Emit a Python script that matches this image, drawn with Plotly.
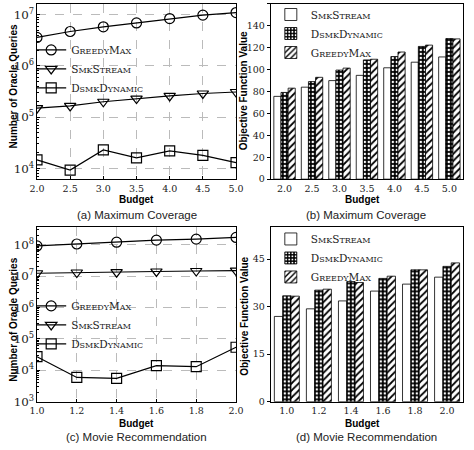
import plotly.graph_objects as go

W, H = 474, 450

# ---------------- data ----------------
budget_mc = [2.0, 2.5, 3.0, 3.5, 4.0, 4.5, 5.0]
budget_mr = [1.0, 1.2, 1.4, 1.6, 1.8, 2.0]

# (a) oracle queries, maximum coverage
q_mc_greedy = [3.6e6, 4.7e6, 5.8e6, 6.9e6, 8.4e6, 9.8e6, 1.1e7]
q_mc_smk = [1.5e5, 1.66e5, 2.0e5, 2.3e5, 2.6e5, 2.9e5, 3.1e5]
q_mc_dsmk = [1.47e4, 9.3e3, 2.3e4, 1.6e4, 2.2e4, 1.8e4, 1.3e4]

# (b) objective value, maximum coverage
f_mc_smk = [75.6, 84, 90, 94.8, 101.7, 106.8, 111.6]
f_mc_dsmk = [79.2, 89.1, 99.6, 108.9, 111.9, 121.2, 128.4]
f_mc_greedy = [83.1, 93, 101.4, 109.5, 116.1, 122.4, 128.1]

# (c) oracle queries, movie recommendation
q_mr_greedy = [9.1e7, 1.05e8, 1.2e8, 1.4e8, 1.5e8, 1.7e8]
q_mr_smk = [1.23e7, 1.3e7, 1.33e7, 1.4e7, 1.45e7, 1.5e7]
q_mr_dsmk = [2.7e4, 5.9e3, 5.5e3, 1.4e4, 1.3e4, 5.4e4]

# (d) objective value, movie recommendation
f_mr_smk = [26.9, 29.3, 31.8, 34.9, 37.1, 39.3]
f_mr_dsmk = [33.4, 35.2, 37.9, 38.9, 41.6, 42.7]
f_mr_greedy = [33.3, 35.5, 37.6, 39.6, 41.6, 43.8]

names = {"greedy": ["G", "REEDY", "M", "AX"],
         "smk": ["S", "MK", "S", "TREAM"],
         "dsmk": ["D", "SMK", "D", "YNAMIC"]}
captions = ["(a) Maximum Coverage", "(b) Maximum Coverage",
            "(c) Movie Recommendation", "(d) Movie Recommendation"]
x_title = "Budget"
y_title_q = "Number of Oracle Queries"
y_title_f = "Objective Function Value"


def sc(parts):
    out = ""
    for i, p in enumerate(parts):
        if i % 2 == 0:
            out += p
        else:
            out += "<span style='font-size:8px'>" + p + "</span>"
    return out


SERIF = "DejaVu Serif"
SANS = "Liberation Sans"

fig = go.Figure()


def px_x(a, b):
    return [a / W, b / W]


def px_y(top, bottom):
    return [1 - bottom / H, 1 - top / H]


# domains
LX = px_x(30, 236)
RX = px_x(272, 471)
TY = px_y(4, 182)
BY = px_y(231, 408)

line_style = dict(color="black", width=1.2)

# ---- (a) ----
for key, ys, sym in [("greedy", q_mc_greedy, "circle-open"),
                     ("smk", q_mc_smk, "triangle-down-open"),
                     ("dsmk", q_mc_dsmk, "square-open")]:
    fig.add_trace(go.Scatter(x=budget_mc, y=ys, mode="lines+markers", name=sc(names[key]),
                             line=line_style, marker=dict(symbol=sym, size=10, color="black",
                                                          line=dict(width=1.2)),
                             xaxis="x", yaxis="y", legend="legend"))
# ---- (c) ----
for key, ys, sym in [("greedy", q_mr_greedy, "circle-open"),
                     ("smk", q_mr_smk, "triangle-down-open"),
                     ("dsmk", q_mr_dsmk, "square-open")]:
    fig.add_trace(go.Scatter(x=budget_mr, y=ys, mode="lines+markers", name=sc(names[key]),
                             line=line_style, marker=dict(symbol=sym, size=10, color="black",
                                                          line=dict(width=1.2)),
                             xaxis="x3", yaxis="y3", legend="legend3"))

pat = {
    "smk": dict(color="white", pattern=dict(shape="")),
    "dsmk": dict(color="black", pattern=dict(shape=".", fgcolor="white", bgcolor="black",
                                             size=4, solidity=0.3, fillmode="replace")),
    "greedy": dict(color="white", pattern=dict(shape="/", fgcolor="black", bgcolor="white",
                                               size=5, solidity=0.35, fillmode="replace")),
}

# ---- (b) ----
cat_mc = [f"{b:.1f}" for b in budget_mc]
for key, ys in [("smk", f_mc_smk), ("dsmk", f_mc_dsmk), ("greedy", f_mc_greedy)]:
    fig.add_trace(go.Bar(x=cat_mc, y=ys, name=sc(names[key]),
                         marker=dict(line=dict(color="black", width=0.8), **pat[key]),
                         xaxis="x2", yaxis="y2", legend="legend2"))
# ---- (d) ----
cat_mr = [f"{b:.1f}" for b in budget_mr]
for key, ys in [("smk", f_mr_smk), ("dsmk", f_mr_dsmk), ("greedy", f_mr_greedy)]:
    fig.add_trace(go.Bar(x=cat_mr, y=ys, name=sc(names[key]),
                         marker=dict(line=dict(color="black", width=0.8), **pat[key]),
                         xaxis="x4", yaxis="y4", legend="legend4"))

tickfont = dict(family=SERIF, size=9.5, color="#222")

common_axis = dict(showline=True, linecolor="black", linewidth=1, mirror=True,
                   tickfont=tickfont, zeroline=False)

line_x = dict(common_axis, showgrid=True, gridcolor="#bbbbbb", griddash="dash", gridwidth=0.8,
              ticks="inside", ticklen=3, tickcolor="black")
line_y = dict(common_axis, type="log", showgrid=True, gridcolor="#bbbbbb", griddash="dash",
              gridwidth=0.8, ticks="inside", ticklen=3, tickcolor="black", dtick=1,
              exponentformat="power",
              minor=dict(ticks="inside", ticklen=2, tickcolor="black", showgrid=False))
bar_x = dict(common_axis, showgrid=False, ticks="", type="category")
bar_y = dict(common_axis, showgrid=False, ticks="outside", ticklen=3, tickcolor="black")

fig.update_layout(
    width=W, height=H, margin=dict(l=0, r=0, t=0, b=0),
    paper_bgcolor="white", plot_bgcolor="white",
    barmode="group", bargap=0.22, bargroupgap=0.0,
    xaxis=dict(line_x, domain=LX, anchor="y", range=[2.0, 5.0], tickvals=budget_mc,
               tickformat=".1f"),
    yaxis=dict(line_y, domain=TY, anchor="x", range=[3.79, 7.21]),
    xaxis2=dict(bar_x, domain=RX, anchor="y2"),
    yaxis2=dict(bar_y, domain=TY, anchor="x2", range=[0, 160], dtick=20),
    xaxis3=dict(line_x, domain=LX, anchor="y3", range=[1.0, 2.0], tickvals=budget_mr,
                tickformat=".1f"),
    yaxis3=dict(line_y, domain=BY, anchor="x3", range=[3.0, 8.55]),
    xaxis4=dict(bar_x, domain=RX, anchor="y4"),
    yaxis4=dict(bar_y, domain=BY, anchor="x4", range=[0, 55], tickvals=[0, 15, 30, 45]),
    showlegend=True,
)

legfont = dict(family=SERIF, size=10.5, color="#222")
leg_common = dict(font=legfont, bgcolor="rgba(0,0,0,0)", borderwidth=0,
                  xanchor="left", yanchor="top", tracegroupgap=0, itemwidth=30,
                  traceorder="normal")
fig.update_layout(
    legend=dict(leg_common, x=24 / W, y=1 - 36 / H),
    legend3=dict(leg_common, x=24 / W, y=1 - 296 / H),
    legend2=dict(leg_common, x=272 / W, y=1.0),
    legend4=dict(leg_common, x=272 / W, y=1 - 228 / H),
)


def ann(text, x, y, font, angle=0):
    fig.add_annotation(text=text, x=x / W, y=1 - y / H, xref="paper", yref="paper",
                       showarrow=False, xanchor="center", yanchor="middle",
                       textangle=angle, font=font)


capfont = dict(family=SANS, size=11.5, color="#222")
titlefont = dict(family=SANS, size=10, color="black", weight="bold")

for c, cx, cy in zip(captions, [133, 371, 133, 371], [218, 218, 444, 444]):
    ann(c, cx, cy, capfont)
for bx, by in [(133, 203), (367, 203), (133, 430), (367, 430)]:
    ann(x_title, bx, by, titlefont)
ann(y_title_q, 6, 88, titlefont, -90)
ann(y_title_q, 6, 325, titlefont, -90)
ann(y_title_f, 244, 92, titlefont, -90)
ann(y_title_f, 244, 321, titlefont, -90)

fig.write_html("out.html")
